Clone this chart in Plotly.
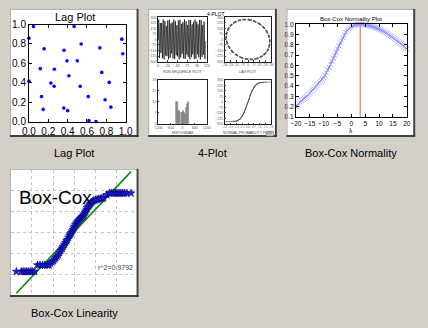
import statistics
import plotly.graph_objects as go

W, H = 428, 328

# ---------------- data ----------------
# Lag plot: (y[i-1], y[i]) pairs
lag_x = [0.047, 0.467, 0.0, 0.96, 0.97, 0.157, 0.54, 0.363, 0.733, 0.393, 0.5,
         0.117, 0.263, 0.753, 0.413, 0.0, 0.227, 0.26, 0.53, 0.83, 0.13, 0.613,
         0.787, 0.147, 0.36, 0.4, 0.847, 0.62, 0.693]
lag_y = [0.98, 0.98, 0.86, 0.85, 0.70, 0.75, 0.80, 0.735, 0.76, 0.626, 0.626,
         0.546, 0.54, 0.507, 0.473, 0.417, 0.397, 0.364, 0.364, 0.404, 0.258,
         0.258, 0.225, 0.126, 0.139, 0.113, 0.149, 0.01, 0.0]

# 4-plot: run sequence of the measured signal
run_seq = [
    5, 268, -65, -252, 127, 221, -181, -177, 224, 123, -254, -61, 269, -5,
    -267, 70, 250, -131, -218, 184, 174, -227, -118, 255, 56, -269, 9, 267,
    -75, -249, 135, 216, -188, -170, 229, 114, -257, -52, 269, -14, -266, 79,
    247, -139, -213, 191, 166, -231, -110, 258, 47, -270, 19, 265, -83, -245,
    143, 210, -194, -163, 234, 106, -259, -42, 270, -23, -264, 88, 243, -147,
    -207, 197, 159, -236, -101, 261, 38, -270, 28, 263, -92, -241, 151, 204,
    -201, -155, 238, 97, -262, -33, 270, -33, -262, 97, 238, -155, -201, 204,
    151, -241, -92, 263, 28, -270, 38, 261, -101, -236, 159, 197, -207, -147,
    243, 88, -264, -23,
]

# Box-Cox normality: lambda vs. probability-plot correlation
bc_lambda = [v / 2 for v in range(-40, 41)]
bc_corr = [0.20, 0.215, 0.23, 0.245, 0.26, 0.27, 0.28, 0.29, 0.30, 0.315,
           0.33, 0.345, 0.36, 0.375, 0.39, 0.405, 0.42, 0.435, 0.45, 0.465,
           0.48, 0.505, 0.53, 0.555, 0.58, 0.61, 0.64, 0.67, 0.70, 0.73,
           0.76, 0.79, 0.82, 0.845, 0.87, 0.895, 0.92, 0.94, 0.955, 0.966,
           0.975, 0.983, 0.99, 0.994, 0.997, 0.999, 1.0, 1.0, 0.999, 0.997,
           0.995, 0.993, 0.99, 0.987, 0.983, 0.979, 0.975, 0.97, 0.965, 0.959,
           0.952, 0.946, 0.94, 0.933, 0.925, 0.918, 0.91, 0.90, 0.89, 0.88,
           0.87, 0.86, 0.85, 0.84, 0.83, 0.82, 0.81, 0.798, 0.785, 0.773, 0.76]
bc_best = 3.2

# Box-Cox linearity: ordered points and fitted line
lin_x = [-2.74, -2.51, -2.42, -2.33, -2.24, -2.15, -2.06, -1.97, -1.88,
         -1.74, -1.62, -1.50, -1.39, -1.27, -1.19,
         -1.13, -1.05, -0.98, -0.92, -0.87, -0.81, -0.75, -0.69, -0.63, -0.57,
         -0.52, -0.46, -0.41, -0.36, -0.32, -0.27, -0.22, -0.18, -0.14, -0.10,
         -0.06, -0.02, 0.01, 0.06, 0.11, 0.15, 0.20, 0.25, 0.29, 0.34, 0.38,
         0.43, 0.47, 0.51, 0.55, 0.59, 0.62, 0.67, 0.72, 0.77, 0.81, 0.87,
         0.93, 1.00, 1.08, 1.16, 1.24, 1.31, 1.39, 1.54,
         1.67, 1.76, 1.85, 1.94, 2.03, 2.12, 2.21, 2.30, 2.38, 2.49, 2.69]
lin_y = [-1.84, -1.84, -1.84, -1.84, -1.84, -1.84, -1.84, -1.84, -1.84,
         -1.53, -1.53, -1.53, -1.53, -1.53, -1.53,
         -1.44, -1.38, -1.33, -1.25, -1.18, -1.11, -1.04, -0.93, -0.83, -0.73,
         -0.64, -0.55, -0.46, -0.38, -0.31, -0.21, -0.12, -0.06, 0.0, 0.08,
         0.15, 0.23, 0.31, 0.39, 0.46, 0.52, 0.58, 0.63, 0.68, 0.73, 0.77,
         0.83, 0.89, 0.97, 1.04, 1.12, 1.20, 1.26, 1.32, 1.38, 1.44, 1.49,
         1.53, 1.56, 1.59, 1.61, 1.62, 1.64, 1.66, 1.81,
         1.89, 1.89, 1.89, 1.89, 1.89, 1.89, 1.89, 1.89, 1.89, 1.89, 1.89]
fit_intercept = 0.05
fit_slope = 1.064
r_squared = "0.9792"

gallery_labels = ["Lag Plot", "4-Plot", "Box-Cox Normality", "Box-Cox Linearity"]

# ---------------- helpers ----------------
def dx(a, b):
    return [a / W, b / W]


def dy(top, bottom):
    return [1 - bottom / H, 1 - top / H]


def px(v):
    return v / W


def py(v):
    return 1 - v / H


FONT = "Liberation Sans"

fig = go.Figure()

# Lag plot
fig.add_trace(go.Scatter(x=lag_x, y=lag_y, mode="markers", xaxis="x", yaxis="y",
                         marker=dict(color="#0000ff", size=3.6), cliponaxis=False,
                         hoverinfo="skip"))

# 4-plot panels
n = len(run_seq)
fig.add_trace(go.Scatter(x=list(range(1, n + 1)), y=run_seq, mode="lines",
                         xaxis="x2", yaxis="y2",
                         line=dict(color="#111111", width=0.7), hoverinfo="skip"))
fig.add_trace(go.Scatter(x=run_seq[:-1], y=run_seq[1:], mode="markers",
                         xaxis="x3", yaxis="y3",
                         marker=dict(color="#555555", size=1.7), hoverinfo="skip"))
fig.add_trace(go.Histogram(x=run_seq, xbins=dict(start=-300, end=300, size=50),
                           xaxis="x4", yaxis="y4",
                           marker=dict(color="#bdbdbd", line=dict(color="#606060", width=0.5)),
                           hoverinfo="skip"))
nd = statistics.NormalDist()
ordered = sorted(run_seq)
quantiles = [nd.inv_cdf((i + 0.5) / n) for i in range(n)]
fig.add_trace(go.Scatter(x=quantiles, y=ordered, mode="lines+markers",
                         xaxis="x5", yaxis="y5",
                         line=dict(color="#505050", width=0.5),
                         marker=dict(color="#505050", size=1), hoverinfo="skip"))

# Box-Cox normality
fig.add_trace(go.Scatter(x=bc_lambda, y=bc_corr, mode="lines+markers",
                         xaxis="x6", yaxis="y6", cliponaxis=False,
                         line=dict(color="#3030f0", width=0.8),
                         marker=dict(symbol="x-thin", size=5, color="#9a9aff",
                                     line=dict(color="#9494ff", width=0.8)),
                         hoverinfo="skip"))

# Box-Cox linearity
fx0, fx1 = min(lin_x), max(lin_x)
fig.add_trace(go.Scatter(x=[fx0, fx1],
                         y=[fit_intercept + fit_slope * fx0, fit_intercept + fit_slope * fx1],
                         mode="lines", xaxis="x7", yaxis="y7", cliponaxis=False,
                         line=dict(color="#008a00", width=1.5), hoverinfo="skip"))
fig.add_trace(go.Scatter(x=lin_x, y=lin_y, mode="markers", xaxis="x7", yaxis="y7",
                         marker=dict(symbol="star", size=6, color="#1f1fe6",
                                     line=dict(color="#000070", width=0.6)),
                         hoverinfo="skip"))

# ---------------- axes ----------------
lag_ax = dict(range=[0, 1], tickvals=[0, 0.2, 0.4, 0.6, 0.8, 1.0], tickformat=".1f",
              showline=True, linecolor="black", linewidth=1, mirror="allticks",
              ticks="inside", ticklen=3, tickcolor="black", tickangle=0,
              tickfont=dict(family=FONT, size=10, color="black"),
              showgrid=False, zeroline=False, fixedrange=True)

small = dict(showline=True, linecolor="#202020", linewidth=0.6, mirror=True,
             ticks="inside", ticklen=1.5, tickwidth=0.5, tickcolor="#404040",
             tickangle=0,
             tickfont=dict(family=FONT, size=3.5, color="#555555"),
             showgrid=False, zeroline=False, fixedrange=True)
tiny_font = dict(family=FONT, size=2.6, color="#555555")

bc_ax = dict(showline=True, linecolor="black", linewidth=1, mirror="allticks",
             ticks="inside", ticklen=3, tickcolor="black", tickangle=0,
             tickfont=dict(family=FONT, size=6.5, color="black"),
             showgrid=False, zeroline=False, fixedrange=True)

lin_ax = dict(range=[-3, 3], dtick=1, tick0=0, showticklabels=False, ticks="",
              showgrid=True, gridcolor="#c4c4c4", griddash="dot", gridwidth=1,
              showline=False, zeroline=False, fixedrange=True)

fig.update_layout(
    xaxis=dict(lag_ax, domain=dx(22.7, 122.7), anchor="y"),
    yaxis=dict(lag_ax, domain=dy(19.3, 120), anchor="x"),
    xaxis2=dict(small, domain=dx(156, 206.7), anchor="y2", range=[0, 120], dtick=24),
    yaxis2=dict(small, domain=dy(11.7, 57.7), anchor="x2", range=[-300, 300], dtick=75),
    xaxis3=dict(small, domain=dx(225, 273.3), anchor="y3", range=[-290, 290], dtick=72.5,
                tickformat=".0f", tickfont=tiny_font),
    yaxis3=dict(small, domain=dy(11.7, 57.7), anchor="x3", range=[-300, 300], dtick=75),
    xaxis4=dict(small, domain=dx(156, 206.7), anchor="y4", range=[-1200, 1200], dtick=600),
    yaxis4=dict(small, domain=dy(76.7, 122.3), anchor="x4", range=[0, 28], dtick=7),
    xaxis5=dict(small, domain=dx(225, 273.3), anchor="y5", range=[-2.8, 2.8], dtick=0.7,
                tickformat=".1f", tickfont=tiny_font),
    yaxis5=dict(small, domain=dy(76.7, 122.3), anchor="x5", range=[-300, 300], dtick=75),
    xaxis6=dict(bc_ax, domain=dx(298.7, 413.3), anchor="y6", range=[-20, 20], dtick=5),
    yaxis6=dict(bc_ax, domain=dy(19, 115), anchor="x6", range=[0.1, 1.0], dtick=0.1,
                tick0=0.1, tickformat=".1f"),
    xaxis7=dict(lin_ax, domain=dx(4, 135), anchor="y7"),
    yaxis7=dict(lin_ax, domain=dy(170, 301), anchor="x7"),
)

# ---------------- frames ----------------
frames = [(3, 3, 136, 136), (146, 3, 279, 136), (289, 3, 422, 136), (3, 169, 136, 302)]
shapes = []
for x0, y0, x1, y1 in frames:
    shapes.append(dict(type="rect", xref="paper", yref="paper", layer="below",
                       x0=px(x0), x1=px(x1), y0=py(y1), y1=py(y0),
                       fillcolor="white", line=dict(width=0)))
    # light edge on top and left
    shapes.append(dict(type="line", xref="paper", yref="paper",
                       x0=px(x0 + 0.5), x1=px(x0 + 0.5), y0=py(y1), y1=py(y0),
                       line=dict(color="#a8a8a8", width=1)))
    shapes.append(dict(type="line", xref="paper", yref="paper",
                       x0=px(x0), x1=px(x1), y0=py(y0 + 0.5), y1=py(y0 + 0.5),
                       line=dict(color="#a8a8a8", width=1)))
    # dark shadow on right and bottom
    shapes.append(dict(type="line", xref="paper", yref="paper",
                       x0=px(x1 - 1), x1=px(x1 - 1), y0=py(y1), y1=py(y0),
                       line=dict(color="#404040", width=2)))
    shapes.append(dict(type="line", xref="paper", yref="paper",
                       x0=px(x0), x1=px(x1), y0=py(y1 - 1), y1=py(y1 - 1),
                       line=dict(color="#404040", width=2)))

# page badge in the 4-plot corner
shapes.append(dict(type="rect", xref="paper", yref="paper",
                   x0=px(268), x1=px(275.5), y0=py(135), y1=py(130),
                   fillcolor="#c8c8c8", line=dict(color="#707070", width=0.5)))

# best lambda marker
shapes.append(dict(type="line", xref="x6", yref="y6 domain",
                   x0=bc_best, x1=bc_best, y0=0, y1=1,
                   line=dict(color="#f07070", width=1.2)))

# ---------------- text ----------------
ann = []


def text(s, x, y, size, color="black", xanchor="center", family=FONT):
    ann.append(dict(text=s, x=px(x), y=py(y), xref="paper", yref="paper",
                    xanchor=xanchor, yanchor="middle", showarrow=False,
                    font=dict(family=family, size=size, color=color)))


text("Lag Plot", 70, 11.5, 11)
text("4-PLOT", 216, 8, 5)
text("RUN SEQUENCE PLOT", 181, 68.5, 3.5, "#444444")
text("LAG PLOT", 249, 68.5, 3.5, "#444444")
text("HISTOGRAM", 181, 131.5, 3.5, "#444444")
text("NORMAL PROBABILITY PLOT", 249, 131.5, 3.5, "#444444")
text("Box-Cox Normality Plot", 356, 13.3, 6)
text("λ", 356, 129, 6.5)
text("Box-Cox", 10, 199, 19, xanchor="left")
text("r^2=" + r_squared, 92.5, 271.7, 7, "#404040", xanchor="left")

centers = [69.5, 212.5, 355.5, 69.5]
rows = [153, 153, 153, 319]
for label, cx, cy in zip(gallery_labels, centers, rows):
    text(label, cx, cy, 11)

fig.update_layout(
    width=W, height=H, margin=dict(l=0, r=0, t=0, b=0),
    paper_bgcolor="#d4d0c8", plot_bgcolor="white",
    showlegend=False, shapes=shapes, annotations=ann,
    font=dict(family=FONT),
    bargap=0,
)

fig.write_html("out.html", config={"displayModeBar": False})
